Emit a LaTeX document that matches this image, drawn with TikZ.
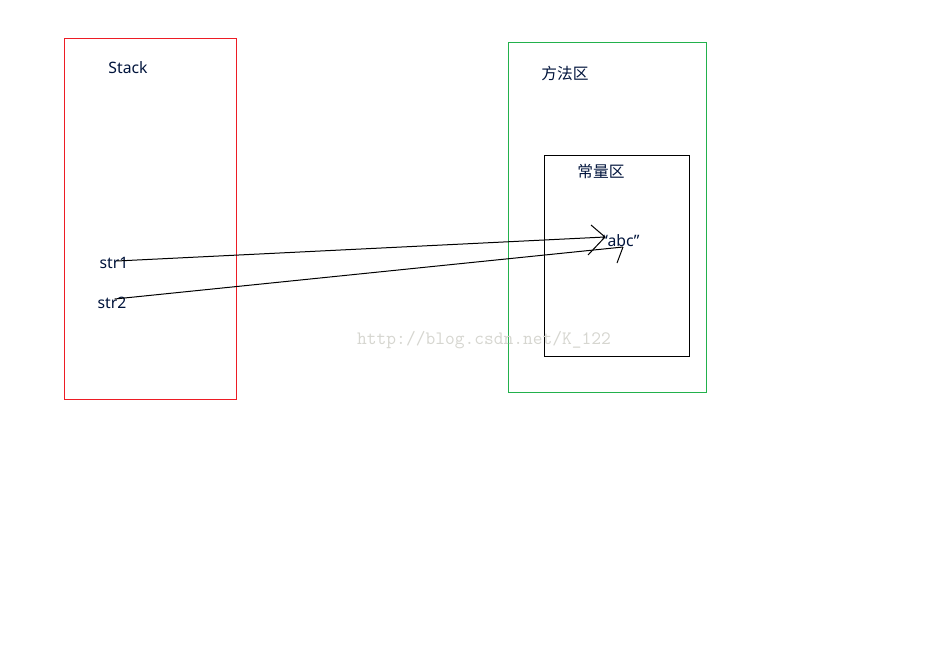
\documentclass[tikz,border=0pt]{standalone}
\usepackage{fontspec}
\setmainfont{Noto Sans}
\newfontfamily\cjk{Noto Sans CJK SC}
\definecolor{stackred}{RGB}{237,28,36}
\definecolor{areagreen}{RGB}{34,177,76}
\definecolor{wmgray}{RGB}{214,214,208}
\definecolor{txtblue}{RGB}{0,20,60}
\begin{document}
\begin{tikzpicture}[x=0.75pt,y=-0.75pt,
  box/.style={draw,line width=0.75pt,inner sep=0pt},
  lbl/.style={font=\fontsize{11.8}{13}\selectfont,text=txtblue,inner sep=0pt},
  conn/.style={line width=0.75pt}]
\useasboundingbox[fill=white] (0,0) rectangle (948,658);
\draw[box,stackred] (64,38) rectangle (236,399);
\draw[box,areagreen] (508,42) rectangle (706,392);
\draw[box,black] (544,155) rectangle (689,356);
\node[font=\ttfamily\fontsize{14.2}{16}\selectfont,text=wmgray,inner sep=0pt] (wm) at (484,340) {http://blog.csdn.net/K\_122};
\node[lbl] (stack) at (128,68) {Stack};
\node[lbl] (ff) at (565,73) {\cjk 方法区};
\node[lbl] (cl) at (601,172) {\cjk 常量区};
\node[lbl] (abc) at (621,241) {“abc”};
\node[lbl] (s1) at (114,263) {str1};
\node[lbl] (s2) at (112,303) {str2};
\coordinate (t1) at (605,237);
\coordinate (t2) at (623,247);
\coordinate (b1a) at (591,225);
\coordinate (b1b) at (588,255);
\coordinate (b2b) at (617,263);
\draw[conn] (s1.east) ++(-12,-2) -- (t1);
\draw[conn] (b1a) -- (t1) -- (b1b);
\draw[conn] (s2.east) ++(-12,-4) -- (t2);
\draw[conn] (t2) -- (b2b);
\end{tikzpicture}
\end{document}
